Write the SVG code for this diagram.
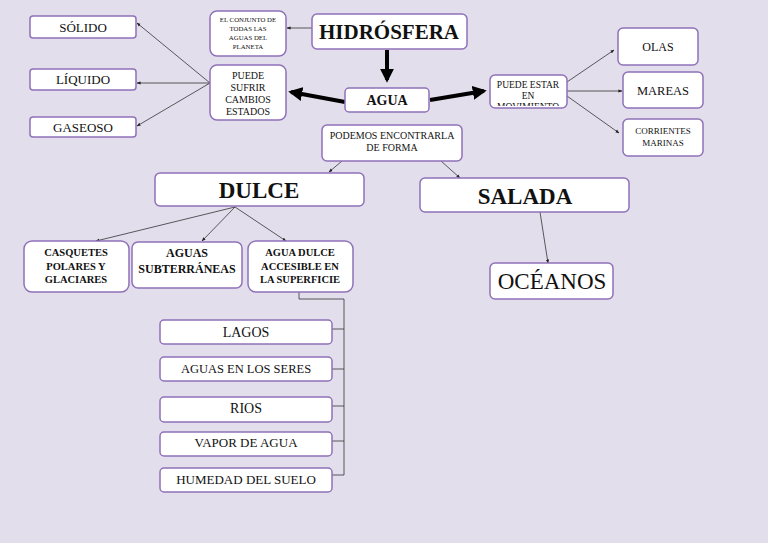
<svg xmlns="http://www.w3.org/2000/svg" width="768" height="543" viewBox="0 0 768 543">
<defs>
<style>
.n{fill:#fff;stroke:#8f72b8;stroke-width:1.5}
text{font-family:"Liberation Serif",serif;fill:#111;text-anchor:middle}
.b{font-weight:bold}
.c{stroke:#333;stroke-width:0.8;fill:none}
.t{stroke:#000;stroke-width:4;fill:none}
</style>
<marker id="a" viewBox="0 0 10 10" refX="9" refY="5" markerWidth="5" markerHeight="5" orient="auto"><path d="M0,1 L10,5 L0,9z" fill="#222"/></marker>
<marker id="A" viewBox="0 0 10 10" refX="8" refY="5" markerWidth="3.5" markerHeight="3.5" orient="auto"><path d="M0,0 L10,5 L0,10z" fill="#000"/></marker>
<clipPath id="cp"><rect x="490" y="75" width="77" height="31"/></clipPath>
</defs>
<rect width="768" height="543" fill="#e3deec"/>
<g id="connectors">
<line class="c" x1="312" y1="28" x2="287" y2="28" marker-end="url(#a)"/>
<line class="t" x1="387" y1="50" x2="387" y2="80" marker-end="url(#A)"/>
<line class="t" x1="345" y1="102" x2="291" y2="92" marker-end="url(#A)"/>
<line class="t" x1="430" y1="100" x2="484" y2="91" marker-end="url(#A)"/>
<line class="c" x1="210" y1="83" x2="137" y2="23" marker-end="url(#a)"/>
<line class="c" x1="210" y1="83" x2="137" y2="83" marker-end="url(#a)"/>
<line class="c" x1="210" y1="83" x2="137" y2="126" marker-end="url(#a)"/>
<line class="c" x1="567" y1="82" x2="614" y2="50" marker-end="url(#a)"/>
<line class="c" x1="567" y1="91" x2="622" y2="91" marker-end="url(#a)"/>
<line class="c" x1="567" y1="96" x2="619" y2="133" marker-end="url(#a)"/>
<line class="c" x1="342" y1="161" x2="329" y2="172" marker-end="url(#a)"/>
<line class="c" x1="441" y1="161" x2="460" y2="178" marker-end="url(#a)"/>
<line class="c" x1="235" y1="207" x2="96" y2="241" marker-end="url(#a)"/>
<line class="c" x1="235" y1="207" x2="202" y2="241" marker-end="url(#a)"/>
<line class="c" x1="235" y1="207" x2="286" y2="241" marker-end="url(#a)"/>
<line class="c" x1="540" y1="212" x2="548" y2="263" marker-end="url(#a)"/>
<path class="c" d="M299,292 V299 H344 V475 M332,329 H344 M332,369 H344 M332,406 H344 M332,441 H344 M332,475 H344"/>
</g>
<g id="solido"><rect class="n" x="30" y="16" width="106" height="22" rx="3"/><text x="83" y="32" font-size="13">SÓLIDO</text></g>
<g id="liquido"><rect class="n" x="30" y="69" width="106" height="21" rx="3"/><text x="83" y="84" font-size="13">LÍQUIDO</text></g>
<g id="gaseoso"><rect class="n" x="30" y="117" width="106" height="20" rx="3"/><text x="83" y="132" font-size="13">GASEOSO</text></g>
<g id="conjunto"><rect class="n" x="210" y="11" width="76" height="45" rx="7"/><text font-size="6.8"><tspan x="248" y="22">EL CONJUNTO DE</tspan><tspan x="248" y="31">TODAS LAS</tspan><tspan x="248" y="40">AGUAS DEL</tspan><tspan x="248" y="49">PLANETA</tspan></text></g>
<g id="sufrir"><rect class="n" x="210" y="65" width="76" height="55" rx="7"/><text font-size="10"><tspan x="248" y="79">PUEDE</tspan><tspan x="248" y="91">SUFRIR</tspan><tspan x="248" y="103">CAMBIOS</tspan><tspan x="248" y="115">ESTADOS</tspan></text></g>
<g id="hidrosfera"><rect class="n" x="312" y="14" width="155" height="35" rx="5"/><text class="b" x="389" y="39" font-size="21">HIDRÓSFERA</text></g>
<g id="agua"><rect class="n" x="345" y="88" width="84" height="24" rx="4"/><text class="b" x="387" y="105" font-size="14">AGUA</text></g>
<g id="estar"><rect class="n" x="490" y="75" width="77" height="33" rx="5"/><text font-size="9.5" clip-path="url(#cp)"><tspan x="528" y="88">PUEDE ESTAR</tspan><tspan x="528" y="99">EN</tspan><tspan x="528" y="110">MOVIMIENTO</tspan></text></g>
<g id="olas"><rect class="n" x="618" y="28" width="80" height="37" rx="5"/><text x="658" y="51" font-size="12">OLAS</text></g>
<g id="mareas"><rect class="n" x="623" y="72" width="80" height="36" rx="5"/><text x="663" y="95" font-size="12.5">MAREAS</text></g>
<g id="corrientes"><rect class="n" x="623" y="119" width="80" height="37" rx="5"/><text font-size="9"><tspan x="663" y="134">CORRIENTES</tspan><tspan x="663" y="146">MARINAS</tspan></text></g>
<g id="podemos"><rect class="n" x="322" y="125" width="140" height="36" rx="5"/><text font-size="10"><tspan x="392" y="139">PODEMOS ENCONTRARLA</tspan><tspan x="392" y="151">DE FORMA</tspan></text></g>
<g id="dulce"><rect class="n" x="155" y="173" width="209" height="33" rx="5"/><text class="b" x="259" y="198" font-size="23">DULCE</text></g>
<g id="salada"><rect class="n" x="420" y="178" width="209" height="34" rx="5"/><text class="b" x="525" y="204" font-size="23">SALADA</text></g>
<g id="oceanos"><rect class="n" x="490" y="263" width="123" height="36" rx="5"/><text x="552" y="289" font-size="23">OCÉANOS</text></g>
<g id="casquetes"><rect class="n" x="24" y="241" width="105" height="51" rx="8"/><text class="b" font-size="10.5"><tspan x="76" y="256">CASQUETES</tspan><tspan x="76" y="270">POLARES Y</tspan><tspan x="76" y="283">GLACIARES</tspan></text></g>
<g id="subterraneas"><rect class="n" x="132" y="242" width="110" height="46" rx="6"/><text class="b" font-size="12"><tspan x="187" y="257">AGUAS</tspan><tspan x="187" y="273">SUBTERRÁNEAS</tspan></text></g>
<g id="accesible"><rect class="n" x="248" y="241" width="105" height="51" rx="8"/><text class="b" font-size="10.5"><tspan x="300" y="256">AGUA DULCE</tspan><tspan x="300" y="270">ACCESIBLE EN</tspan><tspan x="300" y="283">LA SUPERFICIE</tspan></text></g>
<g id="lagos"><rect class="n" x="160" y="320" width="172" height="24" rx="4"/><text x="246" y="337" font-size="14">LAGOS</text></g>
<g id="seres"><rect class="n" x="160" y="357" width="172" height="24" rx="4"/><text x="246" y="373" font-size="12.5">AGUAS EN LOS SERES</text></g>
<g id="rios"><rect class="n" x="160" y="397" width="172" height="25" rx="4"/><text x="246" y="413" font-size="14">RIOS</text></g>
<g id="vapor"><rect class="n" x="160" y="432" width="172" height="24" rx="4"/><text x="246" y="447" font-size="13">VAPOR DE AGUA</text></g>
<g id="humedad"><rect class="n" x="160" y="468" width="172" height="24" rx="4"/><text x="246" y="484" font-size="13">HUMEDAD DEL SUELO</text></g>
</svg>
